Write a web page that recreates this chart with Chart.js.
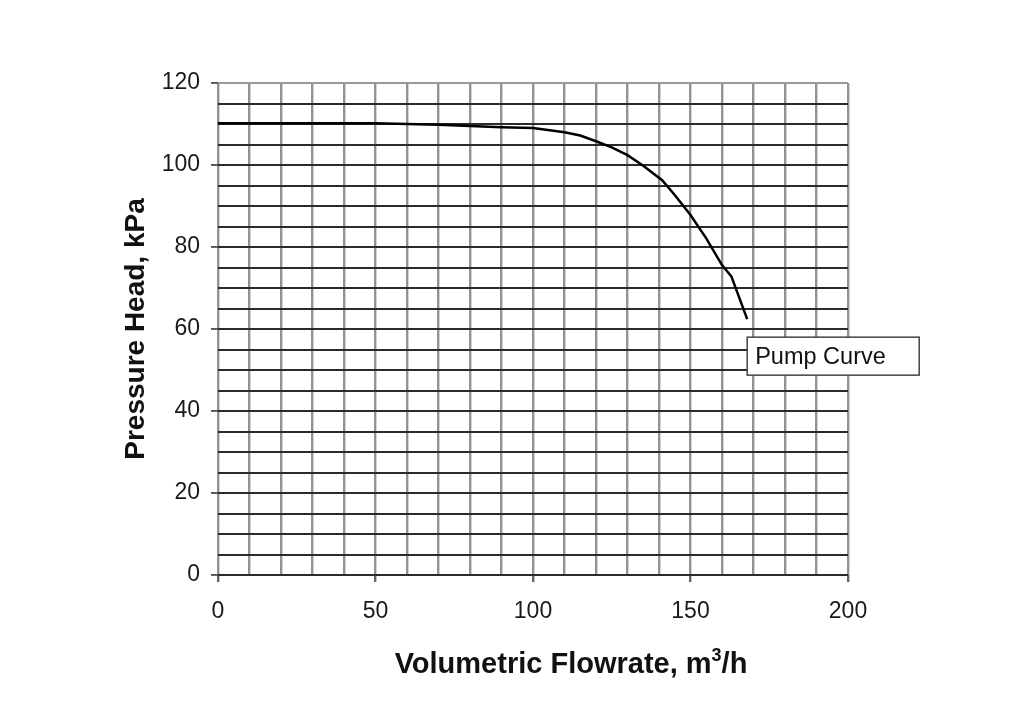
<!DOCTYPE html>
<html>
<head>
<meta charset="utf-8">
<script src="https://cdn.jsdelivr.net/npm/chart.js@4"></script>
<style>
  body { margin: 0; background: #fff; }
  #grafico { display: block; }
</style>
</head>
<body>
<canvas id="grafico" width="1024" height="711"></canvas>
<script>
var caudal = [0, 10, 20, 30, 40, 50, 60, 70, 80, 90, 100, 110, 115, 120, 125, 130, 135, 141, 145, 150, 155, 160, 163, 168];
var presion = [110.2, 110.2, 110.2, 110.2, 110.2, 110.2, 110, 109.8, 109.5, 109.2, 109, 108, 107.2, 105.8, 104.3, 102.4, 99.8, 96.3, 92.7, 87.8, 82.1, 75.6, 72.8, 62.4];
var etiquetaSerie = 'Pump Curve';
var tituloX = ['Volumetric Flowrate, m', '3', '/h'];
var tituloY = 'Pressure Head, kPa';
var marcasX = [0, 50, 100, 150, 200];
var marcasY = [0, 20, 40, 60, 80, 100, 120];

var puntos = [];
for (var i = 0; i < caudal.length; i++) {
    puntos.push({x: caudal[i], y: presion[i]});
}

var fuente = "'Liberation Sans', Arial, sans-serif";

// caja con el nombre de la serie, pegada al ultimo punto
var cajaSerie = {
    id: 'cajaSerie',
    afterDatasetsDraw: function(chart) {
        var meta = chart.getDatasetMeta(0);
        var p = meta.data[meta.data.length - 1];
        var ctx = chart.ctx;
        var x = p.x, y = p.y + 18;
        ctx.save();
        ctx.fillStyle = '#fff';
        ctx.fillRect(x, y, 172, 38);
        ctx.strokeStyle = '#444';
        ctx.lineWidth = 1.5;
        ctx.strokeRect(x, y, 172, 38);
        ctx.fillStyle = '#111';
        ctx.font = '23.5px ' + fuente;
        ctx.textBaseline = 'middle';
        ctx.textAlign = 'left';
        ctx.fillText(etiquetaSerie, x + 8, y + 20);
        ctx.restore();
    }
};

// titulo del eje x con el 3 en superindice, algo corrido a la derecha como en el original
var tituloEjeX = {
    id: 'tituloEjeX',
    afterDraw: function(chart) {
        var ctx = chart.ctx;
        var area = chart.chartArea;
        var grande = 'bold 29px ' + fuente;
        var chica = 'bold 18px ' + fuente;
        ctx.save();
        ctx.fillStyle = '#111';
        ctx.textBaseline = 'alphabetic';
        ctx.textAlign = 'left';
        ctx.font = grande;
        var w0 = ctx.measureText(tituloX[0]).width;
        var w2 = ctx.measureText(tituloX[2]).width;
        ctx.font = chica;
        var w1 = ctx.measureText(tituloX[1]).width;
        var total = w0 + w1 + w2;
        var cx = (area.left + area.right) / 2 + 38;
        var x = cx - total / 2;
        var y = area.bottom + 98;
        ctx.font = grande;
        ctx.fillText(tituloX[0], x, y);
        ctx.font = chica;
        ctx.fillText(tituloX[1], x + w0, y - 12);
        ctx.font = grande;
        ctx.fillText(tituloX[2], x + w0 + w1, y);
        ctx.restore();
    }
};

var ctx = document.getElementById('grafico').getContext('2d');
var chart = new Chart(ctx, {
    type: 'line',
    data: {
        datasets: [{
            label: etiquetaSerie,
            data: puntos,
            borderColor: '#000',
            borderWidth: 2.5,
            pointRadius: 0,
            tension: 0,
            fill: false
        }]
    },
    options: {
        responsive: false,
        animation: false,
        layout: { padding: { left: 0, top: 83, right: 176, bottom: 0 } },
        plugins: {
            legend: { display: false },
            tooltip: { enabled: false }
        },
        scales: {
            x: {
                type: 'linear',
                min: 0,
                max: 200,
                afterFit: function(s) { s.height = 136; },
                border: { display: false },
                grid: {
                    color: '#939393',
                    lineWidth: 2.4,
                    tickLength: 7,
                    tickColor: function(c) { return marcasX.indexOf(c.tick.value) >= 0 ? '#666' : 'transparent'; }
                },
                ticks: {
                    stepSize: 10,
                    autoSkip: false,
                    maxRotation: 0,
                    minRotation: 0,
                    padding: 16,
                    color: '#1a1a1a',
                    font: { family: fuente, size: 23 },
                    callback: function(v) { return marcasX.indexOf(v) >= 0 ? v : ''; }
                },
                title: { display: false }
            },
            y: {
                min: 0,
                max: 120,
                afterFit: function(s) { s.width = 218; },
                border: { display: false },
                grid: {
                    color: function(c) { return c.tick.value === 120 ? '#9a9a9a' : '#2b2b2b'; },
                    lineWidth: 1.9,
                    tickLength: 7,
                    tickColor: function(c) { return marcasY.indexOf(c.tick.value) >= 0 ? '#555' : 'transparent'; }
                },
                ticks: {
                    stepSize: 5,
                    autoSkip: false,
                    padding: 11,
                    color: '#1a1a1a',
                    font: { family: fuente, size: 23 },
                    callback: function(v) { return marcasY.indexOf(v) >= 0 ? v : ''; }
                },
                title: {
                    display: true,
                    text: tituloY,
                    color: '#111',
                    font: { family: fuente, size: 28, weight: 'bold' },
                    padding: { top: 119, bottom: 0 }
                }
            }
        }
    },
    plugins: [cajaSerie, tituloEjeX]
});
</script>
</body>
</html>
